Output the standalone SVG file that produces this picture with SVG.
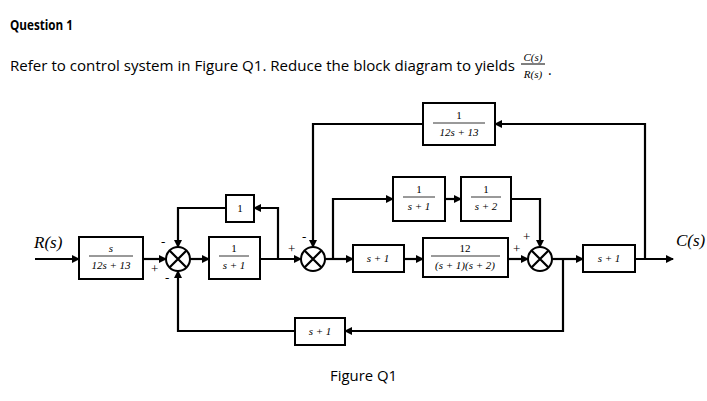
<svg xmlns="http://www.w3.org/2000/svg" width="707" height="401" viewBox="0 0 707 401">
<style>
.b{fill:#fff;stroke:#000;stroke-width:2}
.l{fill:none;stroke:#000;stroke-width:2.2}
.t{font-family:"Liberation Serif",serif;font-style:italic;font-size:11px;text-anchor:middle}
.u{font-style:normal}
.n{font-family:"Open Sans",sans-serif;font-size:14px}
.s{font-family:"Liberation Serif",serif;font-size:13px}
.lab{font-family:"Liberation Serif",serif;font-style:italic;font-size:17px}
</style>
<defs><marker id="a" markerWidth="8" markerHeight="8" refX="7" refY="4" orient="auto" markerUnits="userSpaceOnUse"><path d="M0,0L8,4L0,8z"/></marker></defs>
<rect width="707" height="401" fill="#fff"/>
<text x="10" y="30" class="n" font-weight="bold" textLength="63" lengthAdjust="spacingAndGlyphs">Question 1</text>
<text x="10" y="71" class="n" textLength="505" lengthAdjust="spacingAndGlyphs">Refer to control system in Figure Q1. Reduce the block diagram to yields</text>
<text x="533" y="61" class="t">C(s)</text>
<line x1="521" y1="64" x2="545" y2="64" stroke="#000"/>
<text x="533" y="78" class="t">R(s)</text>
<text x="548" y="75" class="n">.</text>
<text x="330" y="381" class="n" textLength="67" lengthAdjust="spacingAndGlyphs">Figure Q1</text>
<text x="34" y="248" class="lab">R(s)</text>
<text x="676" y="246" class="lab">C(s)</text>
<g id="connectors">
<path class="l" marker-end="url(#a)" d="M35,259H79"/>
<path class="l" marker-end="url(#a)" d="M143,259H166"/>
<path class="l" marker-end="url(#a)" d="M190,259H209"/>
<path class="l" marker-end="url(#a)" d="M260,259H301"/>
<path class="l" marker-end="url(#a)" d="M278,259V208H254"/>
<path class="l" marker-end="url(#a)" d="M226,208H178V247"/>
<path class="l" marker-end="url(#a)" d="M325,259H353"/>
<path class="l" marker-end="url(#a)" d="M333,259V199H393"/>
<path class="l" marker-end="url(#a)" d="M445,199H461"/>
<path class="l" marker-end="url(#a)" d="M511,199H540V247"/>
<path class="l" marker-end="url(#a)" d="M404,259H423"/>
<path class="l" marker-end="url(#a)" d="M508,259H528"/>
<path class="l" marker-end="url(#a)" d="M552,259H583"/>
<path class="l" marker-end="url(#a)" d="M635,259H673"/>
<path class="l" marker-end="url(#a)" d="M645,259V124H495"/>
<path class="l" marker-end="url(#a)" d="M423,124H313V247"/>
<path class="l" marker-end="url(#a)" d="M563,259V331H345"/>
<path class="l" marker-end="url(#a)" d="M295,331H178V271"/>
</g>
<g id="sum1"><circle cx="178" cy="259" r="12" class="b"/><path class="l" d="M169.5,250.5l17,17M186.5,250.5l-17,17"/></g>
<g id="sum2"><circle cx="313" cy="259" r="12" class="b"/><path class="l" d="M304.5,250.5l17,17M321.5,250.5l-17,17"/></g>
<g id="sum3"><circle cx="540" cy="259" r="12" class="b"/><path class="l" d="M531.5,250.5l17,17M548.5,250.5l-17,17"/></g>
<g class="s">
<text x="161" y="246">-</text><text x="151" y="273">+</text><text x="165" y="282">-</text>
<text x="288" y="253">+</text><text x="302" y="241">-</text>
<text x="513" y="253">+</text><text x="523" y="241">+</text>
</g>
<g id="G1"><rect x="79" y="237" width="64" height="42" class="b"/><text x="111" y="252" class="t">s</text><line x1="89" y1="256" x2="133" y2="256" stroke="#000" stroke-width="0.8"/><text x="111" y="269" class="t">12s + 13</text></g>
<g id="G2"><rect x="209" y="237" width="51" height="42" class="b"/><text x="234" y="252" class="t u">1</text><line x1="219" y1="256" x2="249" y2="256" stroke="#000" stroke-width="0.8"/><text x="234" y="269" class="t">s + 1</text></g>
<g id="H1"><rect x="226" y="195" width="28" height="27" class="b"/><text x="240" y="212" class="t u">1</text></g>
<g id="H2"><rect x="295" y="318" width="50" height="27" class="b"/><text x="320" y="335" class="t">s + 1</text></g>
<g id="G3"><rect x="353" y="245" width="51" height="27" class="b"/><text x="378" y="262" class="t">s + 1</text></g>
<g id="G4"><rect x="423" y="238" width="85" height="39" class="b"/><text x="465" y="252" class="t u">12</text><line x1="431" y1="256" x2="500" y2="256" stroke="#000" stroke-width="0.8"/><text x="465" y="269" class="t">(s + 1)(s + 2)</text></g>
<g id="G5"><rect x="393" y="177" width="52" height="44" class="b"/><text x="419" y="193" class="t u">1</text><line x1="403" y1="197" x2="435" y2="197" stroke="#000" stroke-width="0.8"/><text x="419" y="210" class="t">s + 1</text></g>
<g id="G6"><rect x="461" y="177" width="50" height="44" class="b"/><text x="486" y="193" class="t u">1</text><line x1="471" y1="197" x2="501" y2="197" stroke="#000" stroke-width="0.8"/><text x="486" y="210" class="t">s + 2</text></g>
<g id="G7"><rect x="583" y="245" width="52" height="27" class="b"/><text x="609" y="262" class="t">s + 1</text></g>
<g id="H3"><rect x="423" y="103" width="72" height="42" class="b"/><text x="459" y="119" class="t u">1</text><line x1="433" y1="123" x2="485" y2="123" stroke="#000" stroke-width="0.8"/><text x="459" y="136" class="t">12s + 13</text></g>
</svg>
